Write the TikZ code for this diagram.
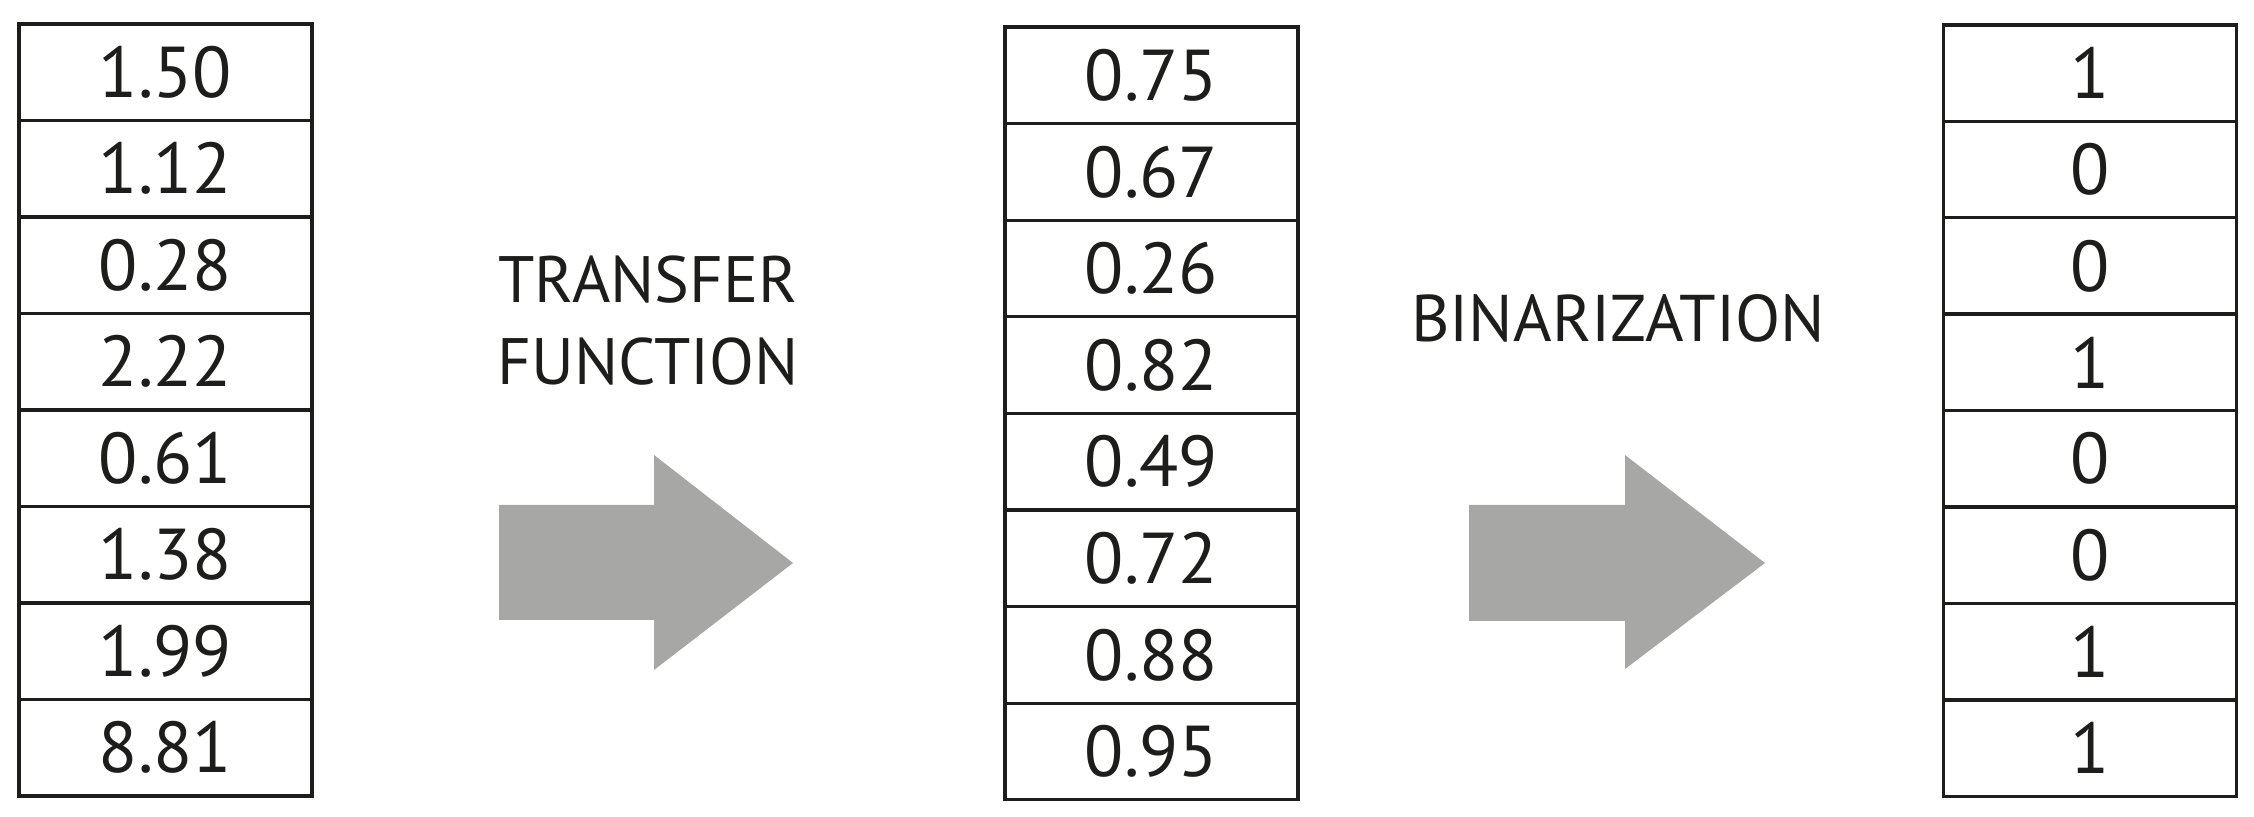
\documentclass[tikz,border=0pt]{standalone}
\usepackage{fontspec}
\setmainfont{PT Sans}
\definecolor{ink}{HTML}{1D1D1B}
\definecolor{arrowgray}{HTML}{A7A7A6}
\begin{document}
\begin{tikzpicture}[x=0.5pt,y=-0.5pt,
  cell/.style={draw=ink, line width=1.65pt, minimum width=146.5pt, minimum height=48.25pt,
    inner sep=0pt, text=ink, font=\fontsize{36}{40}\selectfont},
  mcell/.style={cell, minimum height=48.3pt},
  label/.style={inner sep=0pt, text=ink, align=center},
  bigarrow/.style={fill=arrowgray}]
\useasboundingbox (0,0) rectangle (2254,817);
% left column
\foreach \v [count=\i] in {1.50,1.12,0.28,2.22,0.61,1.38,1.99,8.81}
  \node[cell] (L\i) at (165.5,{24+96.5*(\i-0.5)}) {\v};
% middle column
\foreach \v [count=\i] in {0.75,0.67,0.26,0.82,0.49,0.72,0.88,0.95}
  \node[mcell] (M\i) at (1151.5,{27+96.6*(\i-0.5)}) {\v};
% right column
\foreach \v [count=\i] in {1,0,0,1,0,0,1,1}
  \node[cell] (R\i) at (2090,{25+96.4*(\i-0.5)}) {\v};
% labels
\node[label, font=\fontsize{32.8}{41}\selectfont] (tf) at (648,321) {TRANSFER\\FUNCTION};
\node[label, font=\fontsize{33}{40}\selectfont] (bin) at (1618,318.5) {BINARIZATION};
% arrows
\fill[bigarrow] (499,505) -- (654,505) -- (654,455) -- (793,563) -- (654,670) -- (654,620) -- (499,620) -- cycle;
\fill[bigarrow] (1469,505) -- (1625,505) -- (1625,455) -- (1765,563) -- (1625,669) -- (1625,621) -- (1469,621) -- cycle;
\end{tikzpicture}
\end{document}
